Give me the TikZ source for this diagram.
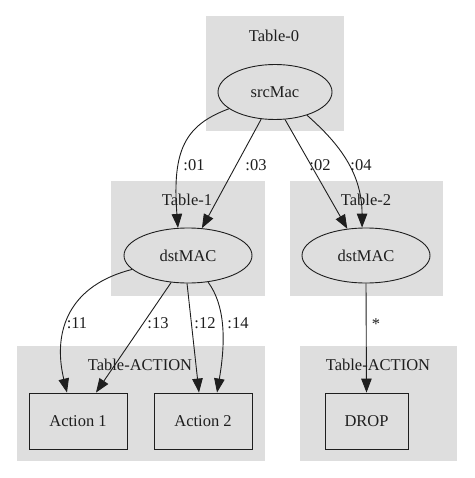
\documentclass[tikz,border=0pt]{standalone}
\usepackage{fontspec}
\setmainfont{Liberation Serif}
\usetikzlibrary{shapes.geometric,arrows.meta}

\definecolor{clustergray}{RGB}{222,222,222}
\definecolor{edgegray}{RGB}{30,30,30}

\begin{document}
\begin{tikzpicture}[x=1pt,y=-1pt,
  every node/.style={inner sep=0pt,font=\fontsize{16.5}{19}\selectfont,text=edgegray},
  cluster/.style={fill=clustergray},
  match/.style={ellipse,draw=edgegray,line width=0.9pt,fill=clustergray,minimum width=#1,minimum height=55},
  action/.style={rectangle,draw=edgegray,line width=0.9pt,fill=clustergray,minimum width=#1,minimum height=56},
  flow/.style={draw=edgegray,line width=0.9pt,-{Triangle[length=14pt,width=10.5pt]}}]
\useasboundingbox (0,0) rectangle (474,478);
% clusters
\fill [cluster] (206,16) rectangle (344,131);
\fill [cluster] (111,181) rectangle (265,296);
\fill [cluster] (290,181) rectangle (443,296);
\fill [cluster] (17,346) rectangle (265,461);
\fill [cluster] (300,346) rectangle (457,461);
\draw (274,36) node (t0) {Table-0};
\draw (187,200) node (t1) {Table-1};
\draw (366,200) node (t2) {Table-2};
\draw (140,365) node (ta) {Table-ACTION};
\draw (378,365) node (tb) {Table-ACTION};
% match nodes
\draw (275,92) node [match=114] (src) {srcMac};
\draw (188,255.5) node [match=128] (dstl) {dstMAC};
\draw (366,255.5) node [match=128] (dstr) {dstMAC};
% actions
\draw (78,421) node [action=98] (act1) {Action 1};
\draw (203,421) node [action=98] (act2) {Action 2};
\draw (366.5,421) node [action=83] (drop) {DROP};
% edges from Table-0
\draw [flow] (src.200) .. controls (185,125) and (172,150) .. (dstl.110);
\draw [flow] (src.243) -- (dstl.63);
\draw [flow] (src.290) -- (dstr.125);
\draw [flow] (src.324) .. controls (335,140) and (362,170) .. (dstr.98);
\draw (194,165) node (l01) {:01};
\draw (256,165) node (l03) {:03};
\draw (320,165) node (l02) {:02};
\draw (361,165) node (l04) {:04};
% edges from Table-1
\draw [flow] (dstl.194) .. controls (70,285) and (52,330) .. ([xshift=-11pt]act1.north);
\draw [flow] (dstl.238) -- ([xshift=18pt]act1.north);
\draw [flow] (dstl.268) -- ([xshift=-4pt]act2.north);
\draw [flow] (dstl.307) .. controls (225,305) and (226,340) .. ([xshift=14pt]act2.north);
\draw (77,323) node (l11) {:11};
\draw (158,323) node (l13) {:13};
\draw (205,323) node (l12) {:12};
\draw (238,323) node (l14) {:14};
% edge from Table-2
\draw [flow] (dstr.south) -- (drop.north);
\draw (376,324) node (lany) {*};
\end{tikzpicture}
\end{document}
